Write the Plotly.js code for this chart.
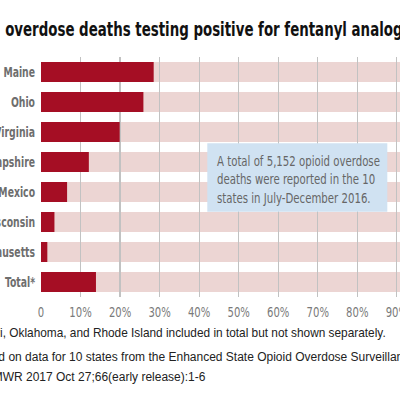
<!DOCTYPE html>
<html>
<head>
<meta charset="utf-8">
<script src="https://cdn.plot.ly/plotly-3.0.1.min.js"></script>
<style>html,body{margin:0;padding:0;background:#fff;}#chart{width:400px;height:400px;}</style>
</head>
<body>
<div id="chart"></div>
<script>
// Data
const states = ["Maine", "Ohio", "West Virginia", "New Hampshire", "New Mexico", "Wisconsin", "Massachusetts", "Total*"];
const percentPositive = [28.5, 25.9, 19.9, 12.1, 6.6, 3.4, 1.6, 13.9];
const fullScale = [100, 100, 100, 100, 100, 100, 100, 100];
const tickValues = [0, 10, 20, 30, 40, 50, 60, 70, 80, 90];
const tickLabels = ["0", "10%", "20%", "30%", "40%", "50%", "60%", "70%", "80%", "90%"];
const titleText = "overdose deaths testing positive for fentanyl analogs";
const boxLines = [
  "A total of 5,152 opioid overdose",
  "deaths were reported in the 10",
  "states in July-December 2016."
];
const footnotes = [
  "*Missouri, Oklahoma, and Rhode Island included in total but not shown separately.",
  "Note: Based on data for 10 states from the Enhanced State Opioid Overdose Surveillance (ESOOS) program.",
  "Source: MMWR 2017 Oct 27;66(early release):1-6"
];

// pixel helpers (plot area: x 41..400, y 57..297)
const L = 41, R = 400, T = 57, B = 297;
const px = v => (v - L) / (R - L);
const py = v => (B - v) / (B - T);
const XMAX = 90.8;

const cond = "'DejaVu Sans Condensed', 'Liberation Sans Narrow', sans-serif";
const foot = "'Liberation Sans', Arial, sans-serif";

const traces = [
  {
    type: "bar", orientation: "h", y: states, x: fullScale,
    xaxis: "x", yaxis: "y",
    marker: {color: "#ecd5d3"}, hoverinfo: "skip", showlegend: false
  },
  {
    type: "bar", orientation: "h", y: states, x: percentPositive,
    xaxis: "x2", yaxis: "y2",
    marker: {color: "#a50e24"}, showlegend: false
  }
];

const annotations = [
  {
    xref: "paper", yref: "paper", x: px(2.7), y: py(28.5), xanchor: "left", yanchor: "middle",
    text: titleText, showarrow: false,
    font: {family: cond, size: 20, color: "#111111", weight: "bold"}
  }
];
const boxLineY = [160.7, 179.3, 198.3];
boxLines.forEach((t, i) => annotations.push({
  xref: "paper", yref: "paper", x: px(215), y: py(boxLineY[i]), xanchor: "left", yanchor: "middle",
  text: t, showarrow: false, align: "left",
  font: {family: cond, size: 14, color: "#666666"}
}));
const footY = [332.5, 356.5, 376.5];
annotations.push(
  {xref: "paper", yref: "paper", x: px(388), y: py(footY[0]), xanchor: "right", yanchor: "middle",
   text: footnotes[0], showarrow: false, font: {family: foot, size: 11.85, color: "#222222"}},
  {xref: "paper", yref: "paper", x: px(-63.5), y: py(footY[1]), xanchor: "left", yanchor: "middle",
   text: footnotes[1], showarrow: false, font: {family: foot, size: 12, color: "#222222"}},
  {xref: "paper", yref: "paper", x: px(208), y: py(footY[2]), xanchor: "right", yanchor: "middle",
   text: footnotes[2], showarrow: false, font: {family: foot, size: 12, color: "#222222"}}
);

const layout = {
  width: 400, height: 400,
  margin: {l: L, r: 400 - R, t: T, b: 400 - B, pad: 0},
  paper_bgcolor: "#ffffff",
  plot_bgcolor: "rgba(0,0,0,0)",
  bargap: 1/3,
  barmode: "overlay",
  showlegend: false,
  xaxis: {
    domain: [0, 1], anchor: "y", range: [0, XMAX], fixedrange: true,
    showgrid: false, zeroline: false, showline: false,
    tickmode: "array", tickvals: tickValues, ticktext: tickLabels,
    ticks: "", ticklabelstandoff: 5, ticklabeloverflow: "allow",
    tickfont: {family: cond, size: 14.5, color: "#7a7a7a"}
  },
  yaxis: {
    domain: [0, 1], anchor: "x", type: "category", autorange: "reversed",
    showgrid: false, zeroline: false, showline: false, fixedrange: true,
    ticks: "", ticklabelstandoff: 5,
    tickfont: {family: cond, size: 14.5, color: "#6e6e6e", weight: "bold"}
  },
  xaxis2: {
    domain: [0, 1], anchor: "y2", range: [0, XMAX], fixedrange: true,
    showgrid: true, gridcolor: "#c2c2c2", gridwidth: 1.2,
    tickmode: "array", tickvals: tickValues,
    zeroline: false, showline: false, showticklabels: false, ticks: ""
  },
  yaxis2: {
    domain: [0, 1], anchor: "x2", type: "category", autorange: "reversed",
    showgrid: false, zeroline: false, showline: false, showticklabels: false,
    ticks: "", fixedrange: true
  },
  shapes: [
    {type: "rect", xref: "paper", yref: "paper", layer: "above",
     x0: px(207.3), x1: px(387.3), y0: py(211.7), y1: py(143.3),
     fillcolor: "#d0e2f2", line: {width: 0}}
  ],
  annotations: annotations
};

// condense text horizontally to mimic the narrow typeface of the original
function squeeze(el, s, mode) {
  const bb = el.getBBox();
  const ox = mode === "right" ? bb.x + bb.width : (mode === "center" ? bb.x + bb.width / 2 : bb.x);
  const prev = el.getAttribute("transform") || "";
  el.setAttribute("transform", prev + " translate(" + ox + ",0) scale(" + s + ",1) translate(" + (-ox) + ",0)");
}

Plotly.newPlot("chart", traces, layout, {staticPlot: true, displayModeBar: false}).then(function () {
  try {
    // title: "overdose deaths" should span ~125.6 px
    const tEl = document.querySelector('.annotation[data-index="0"] .annotation-text');
    if (tEl) {
      const w = tEl.getSubStringLength(0, 15);
      if (w > 0) squeeze(tEl, 125.6 / w, "left");
    }
    // box lines: first line ~163 px
    const b0 = document.querySelector('.annotation[data-index="1"] .annotation-text');
    if (b0) {
      const s = 163 / b0.getComputedTextLength();
      [1, 2, 3].forEach(function (i) {
        const e = document.querySelector('.annotation[data-index="' + i + '"] .annotation-text');
        if (e) squeeze(e, s, "left");
      });
    }
    // y tick labels: "Maine" ~31.7 px
    const yt = Array.from(document.querySelectorAll(".yaxislayer-above .ytick text"));
    const maine = yt.find(function (e) { return e.textContent === "Maine"; });
    if (maine) {
      const s = 31.7 / maine.getComputedTextLength();
      yt.forEach(function (e) { squeeze(e, s, "right"); });
    }
    // x tick labels: "10%" ~22.4 px
    const xt = Array.from(document.querySelectorAll(".xaxislayer-above .xtick text"));
    const ten = xt.find(function (e) { return e.textContent === "10%"; });
    if (ten) {
      const s = 22.4 / ten.getComputedTextLength();
      xt.forEach(function (e) { squeeze(e, s, "center"); });
    }
  } catch (err) { console.log(err); }
});
</script>
</body>
</html>
